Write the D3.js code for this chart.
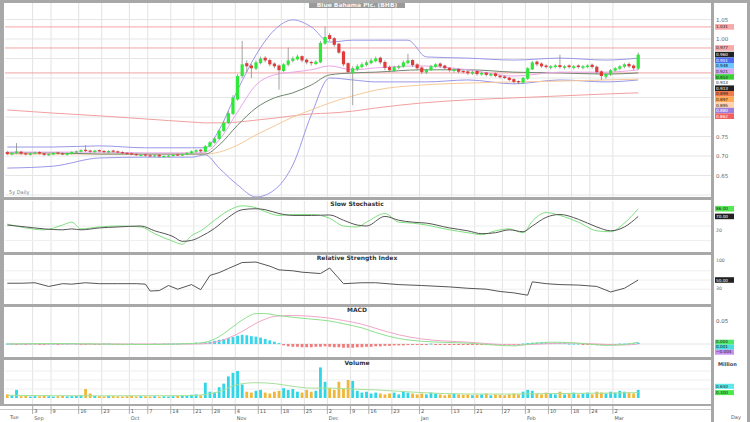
<!DOCTYPE html>
<html><head><meta charset="utf-8">
<script src="https://cdn.jsdelivr.net/npm/d3@7"></script>
<style>body{margin:0;background:#fff;}svg{display:block;font-family:"DejaVu Sans",sans-serif;}</style>
</head><body><svg id="c" width="750" height="422"></svg>
<script>
// ---------------- DATA ----------------
const title = "Blue Bahama Plc. (BHB)";
const openP = [
0.710,0.704,0.707,0.711,0.707,0.703,0.706,0.710,0.707,0.702,
0.704,0.709,0.707,0.703,0.706,0.709,0.711,0.716,0.714,0.710,
0.715,0.713,0.709,0.714,0.712,0.710,0.708,0.707,0.705,0.701,
0.704,0.702,0.699,0.703,0.698,0.699,0.700,0.704,0.701,0.704,
0.707,0.711,0.716,0.711,0.724,0.734,0.744,0.764,0.784,0.808,
0.845,0.905,0.938,0.932,0.924,0.938,0.952,0.946,0.937,0.932,
0.918,0.934,0.944,0.948,0.956,0.947,0.941,0.936,0.940,0.988,
1.010,1.002,0.988,0.968,0.938,0.912,0.922,0.928,0.933,0.938,
0.943,0.952,0.941,0.928,0.918,0.926,0.929,0.938,0.946,0.935,
0.927,0.914,0.920,0.929,0.937,0.932,0.926,0.918,0.923,0.918,
0.917,0.911,0.918,0.909,0.914,0.906,0.912,0.906,0.904,0.901,
0.897,0.892,0.888,0.898,0.922,0.942,0.937,0.932,0.926,0.928,
0.933,0.926,0.932,0.926,0.932,0.926,0.928,0.934,0.929,0.917,
0.903,0.909,0.919,0.924,0.929,0.936,0.932,0.924];
const highP = [
0.713,0.710,0.733,0.713,0.709,0.709,0.711,0.712,0.708,0.707,
0.710,0.711,0.709,0.709,0.712,0.714,0.717,0.728,0.716,0.716,
0.717,0.715,0.715,0.716,0.714,0.712,0.710,0.709,0.707,0.705,
0.706,0.704,0.704,0.705,0.702,0.703,0.705,0.706,0.707,0.710,
0.714,0.717,0.718,0.728,0.738,0.748,0.768,0.790,0.815,0.856,
0.910,0.995,0.945,0.936,0.945,0.955,0.956,0.950,0.940,0.935,
0.938,0.978,0.955,0.960,0.958,0.950,0.944,0.945,0.995,1.032,
1.015,1.005,0.990,0.970,0.940,0.930,0.935,0.940,0.945,0.950,
0.955,0.955,0.945,0.932,0.932,0.934,0.945,0.962,0.948,0.938,
0.930,0.924,0.933,0.938,0.940,0.934,0.928,0.925,0.925,0.920,
0.920,0.919,0.920,0.916,0.916,0.913,0.914,0.908,0.906,0.903,
0.899,0.894,0.903,0.928,0.944,0.945,0.940,0.935,0.933,0.935,
0.960,0.933,0.935,0.933,0.935,0.933,0.935,0.937,0.932,0.920,
0.913,0.923,0.928,0.933,0.938,0.940,0.935,0.965];
const lowP = [
0.702,0.702,0.705,0.703,0.702,0.701,0.704,0.704,0.700,0.700,
0.702,0.704,0.702,0.701,0.704,0.707,0.709,0.710,0.708,0.708,
0.709,0.708,0.707,0.708,0.707,0.705,0.704,0.702,0.700,0.699,
0.698,0.697,0.697,0.696,0.696,0.697,0.698,0.700,0.699,0.702,
0.705,0.709,0.709,0.709,0.722,0.732,0.742,0.762,0.782,0.805,
0.842,0.900,0.915,0.900,0.920,0.935,0.940,0.930,0.925,0.870,
0.915,0.930,0.940,0.945,0.940,0.935,0.932,0.933,0.938,0.985,
0.995,0.980,0.962,0.930,0.910,0.830,0.918,0.925,0.930,0.935,
0.940,0.935,0.920,0.915,0.915,0.922,0.926,0.935,0.928,0.920,
0.910,0.910,0.918,0.926,0.926,0.922,0.916,0.914,0.912,0.912,
0.908,0.908,0.906,0.906,0.904,0.904,0.902,0.899,0.897,0.892,
0.885,0.884,0.885,0.895,0.920,0.930,0.926,0.924,0.922,0.925,
0.924,0.922,0.924,0.922,0.924,0.922,0.925,0.924,0.910,0.895,
0.898,0.905,0.916,0.920,0.925,0.926,0.920,0.920];
const closeP = [
0.705,0.708,0.712,0.706,0.704,0.707,0.709,0.706,0.703,0.705,
0.708,0.706,0.704,0.707,0.710,0.712,0.715,0.713,0.711,0.714,
0.712,0.710,0.713,0.711,0.709,0.707,0.706,0.704,0.702,0.703,
0.701,0.700,0.702,0.699,0.700,0.701,0.703,0.702,0.705,0.708,
0.712,0.715,0.712,0.725,0.735,0.745,0.765,0.785,0.810,0.850,
0.905,0.935,0.930,0.925,0.940,0.950,0.945,0.935,0.930,0.920,
0.935,0.945,0.950,0.955,0.945,0.940,0.938,0.942,0.990,1.005,
1.000,0.985,0.965,0.935,0.915,0.925,0.930,0.935,0.940,0.945,
0.950,0.940,0.926,0.920,0.928,0.930,0.940,0.945,0.933,0.925,
0.915,0.921,0.930,0.935,0.930,0.925,0.920,0.922,0.916,0.915,
0.912,0.916,0.910,0.913,0.908,0.910,0.905,0.902,0.900,0.895,
0.890,0.889,0.900,0.925,0.940,0.935,0.930,0.928,0.930,0.932,
0.928,0.930,0.928,0.930,0.928,0.930,0.932,0.928,0.915,0.905,
0.910,0.920,0.925,0.930,0.935,0.930,0.925,0.960];
const volume = [
0.20,0.15,0.45,0.10,0.12,0.08,0.10,0.09,0.12,0.10,
0.08,0.10,0.12,0.09,0.10,0.12,0.15,0.50,0.25,0.12,
0.10,0.08,0.12,0.10,0.09,0.08,0.10,0.12,0.08,0.10,
0.09,0.08,0.10,0.07,0.09,0.08,0.10,0.12,0.15,0.12,
0.18,0.20,0.15,0.85,0.35,0.30,0.60,0.80,1.20,1.40,
1.50,0.75,0.35,0.30,0.40,0.45,0.30,0.25,0.35,0.40,
0.55,0.45,0.50,0.35,0.30,0.45,0.35,0.40,1.70,0.90,
0.55,0.45,0.90,0.50,1.00,0.95,0.40,0.30,0.35,0.25,
0.30,0.25,0.20,0.25,0.30,0.20,0.35,0.30,0.25,0.20,
0.25,0.20,0.30,0.25,0.20,0.15,0.20,0.25,0.20,0.18,
0.20,0.15,0.18,0.20,0.25,0.15,0.20,0.18,0.15,0.20,
0.25,0.20,0.35,0.45,0.40,0.25,0.20,0.30,0.25,0.20,
0.35,0.20,0.25,0.30,0.20,0.25,0.30,0.20,0.35,0.30,
0.25,0.35,0.30,0.40,0.35,0.30,0.25,0.45];
const macdHist = [
0.001,0.001,-0.001,0.001,-0.001,0.001,0.001,-0.001,-0.001,0.001,
0.001,-0.001,0.001,0.001,0.002,0.001,-0.001,-0.001,0.001,-0.001,
-0.001,0.001,0.001,-0.001,-0.001,-0.001,-0.001,0.001,-0.001,-0.001,
-0.001,-0.001,0.001,-0.001,0.001,0.001,0.001,0.001,0.002,0.002,
0.002,0.003,0.002,0.004,0.005,0.007,0.009,0.011,0.013,0.015,
0.018,0.020,0.019,0.017,0.016,0.014,0.011,0.008,0.005,0.002,
-0.003,-0.005,-0.006,-0.006,-0.007,-0.007,-0.007,-0.006,-0.006,-0.005,
-0.006,-0.007,-0.007,-0.008,-0.008,-0.008,-0.007,-0.007,-0.006,-0.006,
-0.005,-0.005,-0.004,-0.004,-0.003,-0.003,-0.003,-0.002,-0.002,-0.002,
-0.001,-0.001,0.001,-0.001,-0.001,-0.001,-0.001,-0.001,-0.001,-0.001,
-0.001,-0.001,-0.001,-0.001,-0.001,-0.002,-0.002,-0.002,-0.002,-0.002,
-0.002,-0.002,0.001,0.002,0.003,0.003,0.003,0.003,0.002,0.002,
0.002,0.002,0.001,0.001,0.001,-0.001,-0.001,-0.001,-0.002,-0.002,
-0.002,-0.001,-0.001,0.001,0.001,0.001,0.001,0.003];

// moving averages read at sparse points
const maIdx   = [0,10,20,30,40,43,46,50,54,58,62,66,70,75,80,90,100,110,120,130,137];
const maShort = [0.710,0.710,0.710,0.708,0.708,0.710,0.741,0.813,0.882,0.908,0.915,0.921,0.931,0.921,0.926,0.931,0.921,0.905,0.915,0.915,0.921];
const maMid   = [0.708,0.708,0.705,0.705,0.705,0.705,0.728,0.779,0.823,0.849,0.862,0.882,0.908,0.913,0.915,0.921,0.921,0.915,0.913,0.910,0.913];
const maLong  = [0.705,0.705,0.705,0.705,0.705,0.705,0.710,0.728,0.754,0.777,0.800,0.818,0.836,0.854,0.869,0.882,0.887,0.890,0.892,0.895,0.897];
const ma200   = [0.818,0.810,0.803,0.795,0.787,0.785,0.785,0.787,0.792,0.797,0.803,0.808,0.810,0.815,0.823,0.836,0.844,0.849,0.854,0.859,0.862];
const bbIdx   = [0,10,20,30,40,43,46,50,54,58,62,66,70,75,80,87,91,100,110,120,130,137];
const bbUpper = [0.723,0.723,0.726,0.721,0.721,0.721,0.767,0.869,0.959,1.023,1.049,1.031,0.992,0.997,0.997,0.997,0.954,0.951,0.946,0.951,0.946,0.951];
const bbLower = [0.669,0.674,0.695,0.697,0.697,0.703,0.669,0.626,0.595,0.613,0.677,0.805,0.900,0.895,0.890,0.890,0.890,0.895,0.885,0.895,0.890,0.895];
const hLines  = [1.031,0.977,0.913];

// stochastic
const stIdx = [0,4,8,12,14,16,20,24,29,32,36,38,40,42,45,48,51,54,56,59,62,66,70,73,76,78,82,85,88,91,96,100,103,106,109,112,114,117,120,124,128,131,134,137];
const stochD = [52,48,44,42,44,42,46,48,50,40,28,18,20,28,45,68,84,86,84,76,72,72,73,62,52,50,70,62,58,56,46,40,34,36,42,38,50,68,74,64,48,40,48,70];
const stochK = [54,46,42,52,58,44,48,50,48,34,18,12,30,40,62,82,92,88,80,72,74,74,66,50,48,58,76,58,56,52,42,36,32,40,44,36,60,78,72,58,40,38,56,86];
// RSI
const rsiIdx = [0,3,6,9,12,14,17,20,24,28,30,31,33,35,37,40,42,44,46,48,51,54,57,59,62,64,68,70,73,77,80,85,90,96,100,104,107,110,113,114,117,120,124,128,131,134,137];
const rsiVal = [43,43,44,36,42,41,44,42,42,42,41,26,27,38,30,40,29,60,66,75,88,89,80,72,70,67,64,76,42,44,44,40,38,35,32,30,25,22,17,46,42,40,39,36,24,32,50];
// MACD lines
const macdIdx = [0,10,20,30,40,43,46,48,50,52,54,56,58,62,66,70,73,77,80,85,90,100,110,114,118,122,126,130,134,137];
const macdLine = [0.000,0.001,0.000,-0.001,0.001,0.004,0.016,0.030,0.045,0.058,0.066,0.066,0.063,0.058,0.054,0.050,0.044,0.035,0.025,0.012,0.006,0.002,-0.004,0.001,0.004,0.003,0.000,-0.003,-0.001,0.004];
const macdSignal = [0.000,0.000,0.000,0.000,0.000,0.001,0.006,0.013,0.022,0.033,0.045,0.054,0.060,0.062,0.060,0.056,0.051,0.043,0.034,0.020,0.011,0.004,-0.002,-0.001,0.001,0.002,0.001,-0.001,-0.002,0.000];
// volume average
const vmaIdx = [0,20,40,43,46,50,54,58,62,66,70,75,80,90,100,110,120,130,137];
const volMA = [0.15,0.12,0.13,0.20,0.35,0.75,0.85,0.80,0.65,0.55,0.55,0.50,0.45,0.30,0.22,0.22,0.25,0.27,0.30];
// x ticks
const tickIdx   = [6,10,16,21,27,31,36,41,45,50,55,60,65,70,75,79,84,90,97,102,108,113,118,123,127,132];
const tickDay   = ["3","9","16","23","1","7","14","21","28","4","11","18","25","2","9","16","23","2","13","21","27","3","10","18","24","2"];
const tickMonth = ["Sep","","","","Oct","","","","","Nov","","","","Dec","","","","Jan","","","","Feb","","","","Mar"];
const priceTicks = [0.60,0.65,0.70,0.75,0.80,0.85,0.90,0.95,1.00,1.05];
const priceLabels = [0.65,0.70,0.75,1.00,1.05];

// ---------------- DRAW ----------------
const svg = d3.select("#c");
const X0 = 5, X1 = 711, AX = 711;
const P = {main:[3,197], stoch:[201,252], rsi:[255,304], macd:[307,357], vol:[360,404]};
const xs = d3.scaleLinear().domain([-0.5,151.5]).range([5,705]);
const yP = d3.scaleLinear().domain([0.60,1.05]).range([195,19.5]);
const yS = d3.scaleLinear().domain([0,100]).range([250,202]);
const yR = d3.scaleLinear().domain([0,100]).range([303,257]);
const yM = d3.scaleLinear().domain([-0.026,0.076]).range([356,309]);
const yV = d3.scaleLinear().domain([0,2]).range([398,362]);
const N = closeP.length;
const idx = d3.range(N);

svg.append("rect").attr("width",750).attr("height",422).attr("fill","#fff");
const defs = svg.append("defs");
Object.entries(P).forEach(([k,[a,b]])=>{
  defs.append("clipPath").attr("id","cl-"+k).append("rect").attr("x",X0).attr("y",a).attr("width",X1-X0).attr("height",b-a);
});

// vertical grid across panels
Object.values(P).forEach(([a,b])=>{
  svg.append("g").selectAll("line").data(tickIdx).join("line")
    .attr("x1",d=>xs(d)-2.3).attr("x2",d=>xs(d)-2.3).attr("y1",a).attr("y2",b)
    .attr("stroke","#e3e3e3").attr("stroke-width",1);
});
// horizontal grid main
svg.append("g").selectAll("line").data(priceTicks).join("line")
  .attr("x1",X0).attr("x2",X1).attr("y1",d=>yP(d)).attr("y2",d=>yP(d)).attr("stroke","#e6e6e6");
[[yS,[20,50,80]],[yR,[30,50,70]],[yV,[0.5,1,1.5]]].forEach(([s,v])=>{
  svg.append("g").selectAll("line").data(v).join("line")
   .attr("x1",X0).attr("x2",X1).attr("y1",d=>s(d)).attr("y2",d=>s(d)).attr("stroke","#eeeeee");
});

const lineFn = (ys)=> d3.line().x(d=>xs(d[0])).y(d=>ys(d[1])).curve(d3.curveMonotoneX);

// ---- main panel
const gm = svg.append("g").attr("clip-path","url(#cl-main)");
gm.selectAll("line.h").data(hLines).join("line").attr("class","h")
  .attr("x1",X0).attr("x2",X1).attr("y1",d=>yP(d)).attr("y2",d=>yP(d)).attr("stroke","#f2a4a4").attr("stroke-width",1);
const mLines = [
  [bbIdx,bbUpper,"#9a98e8"],[bbIdx,bbLower,"#9a98e8"],
  [maIdx,ma200,"#f2a0a0"],[maIdx,maLong,"#f7c99a"],[maIdx,maMid,"#6f866f"],[maIdx,maShort,"#e9a6ea"]
];
mLines.forEach(([ix,v,c])=>{
  gm.append("path").datum(d3.zip(ix,v)).attr("d",lineFn(yP)).attr("fill","none").attr("stroke",c).attr("stroke-width",1);
});
const up = i => closeP[i] >= openP[i];
gm.selectAll("line.w").data(idx).join("line").attr("class","w")
  .attr("x1",i=>xs(i)).attr("x2",i=>xs(i)).attr("y1",i=>yP(highP[i])).attr("y2",i=>yP(lowP[i]))
  .attr("stroke","#8a8a8a").attr("stroke-width",0.8);
gm.selectAll("rect.b").data(idx).join("rect").attr("class","b")
  .attr("x",i=>xs(i)-1.6).attr("width",3.2)
  .attr("y",i=>yP(Math.max(openP[i],closeP[i])))
  .attr("height",i=>Math.max(1.2,Math.abs(yP(openP[i])-yP(closeP[i]))))
  .attr("fill",i=>up(i)?"#2ee83a":"#e03a3a");
svg.append("text").attr("x",9).attr("y",194).attr("font-size",5).attr("fill","#777").text("5y  Daily");

// ---- stochastic
const gs = svg.append("g").attr("clip-path","url(#cl-stoch)");
gs.append("path").datum(d3.zip(stIdx,stochK)).attr("d",lineFn(yS)).attr("fill","none").attr("stroke","#7fe07f").attr("stroke-width",1);
gs.append("path").datum(d3.zip(stIdx,stochD)).attr("d",lineFn(yS)).attr("fill","none").attr("stroke","#555").attr("stroke-width",1);

// ---- RSI
const gr = svg.append("g").attr("clip-path","url(#cl-rsi)");
gr.append("path").datum(d3.zip(rsiIdx,rsiVal)).attr("d",d3.line().x(d=>xs(d[0])).y(d=>yR(d[1]))).attr("fill","none").attr("stroke","#555").attr("stroke-width",1);

// ---- MACD
const gc = svg.append("g").attr("clip-path","url(#cl-macd)");
gc.append("line").attr("x1",X0).attr("x2",X1).attr("y1",yM(0)).attr("y2",yM(0)).attr("stroke","#e4e4e4");
gc.selectAll("rect").data(idx).join("rect")
  .attr("x",i=>xs(i)-1.4).attr("width",2.8)
  .attr("y",i=>Math.min(yM(0),yM(macdHist[i])))
  .attr("height",i=>Math.max(1,Math.abs(yM(macdHist[i])-yM(0))))
  .attr("fill",i=>macdHist[i]>=0?"#37d6ea":"#f07c7c");
gc.append("path").datum(d3.zip(macdIdx,macdSignal)).attr("d",lineFn(yM)).attr("fill","none").attr("stroke","#f0a6c8").attr("stroke-width",1);
gc.append("path").datum(d3.zip(macdIdx,macdLine)).attr("d",lineFn(yM)).attr("fill","none").attr("stroke","#8ee08e").attr("stroke-width",1);

// ---- Volume
const gv = svg.append("g").attr("clip-path","url(#cl-vol)");
gv.selectAll("rect").data(idx).join("rect")
  .attr("x",i=>xs(i)-1.4).attr("width",2.8)
  .attr("y",i=>yV(volume[i])).attr("height",i=>yV(0)-yV(volume[i]))
  .attr("fill",i=>up(i)?"#2fd6e6":"#f0b83a");
gv.append("path").datum(d3.zip(vmaIdx,volMA)).attr("d",lineFn(yV)).attr("fill","none").attr("stroke","#a6e09a").attr("stroke-width",1);

// ---- panel titles
const titles = [["Slow Stochastic",206],["Relative Strength Index",260],["MACD",312],["Volume",365]];
titles.forEach(([t,y])=>svg.append("text").attr("x",357).attr("y",y).attr("text-anchor","middle")
  .attr("font-size",6).attr("font-weight","bold").attr("fill","#333").text(t));
const tw = 96;
svg.append("rect").attr("x",357-tw/2).attr("y",0).attr("width",tw).attr("height",8).attr("fill","#9a9a9a");
svg.append("text").attr("x",357).attr("y",6.5).attr("text-anchor","middle").attr("font-size",6).attr("font-weight","bold").attr("fill","#f4f4f4").text(title);

// ---- frames
const frame = svg.append("g").attr("fill","#a8a8a8");
frame.append("rect").attr("x",0).attr("y",0).attr("width",750).attr("height",3);
frame.append("rect").attr("x",0).attr("y",0).attr("width",4).attr("height",406);
frame.append("rect").attr("x",AX).attr("y",0).attr("width",3).attr("height",422);
frame.append("rect").attr("x",747).attr("y",0).attr("width",3).attr("height",422);
[[197,3],[252,3],[304,3],[357,3],[404,2]].forEach(([y,h])=>frame.append("rect").attr("x",0).attr("y",y).attr("width",AX).attr("height",h));
frame.append("rect").attr("x",0).attr("y",409).attr("width",AX).attr("height",1).attr("fill","#c8c8c8");

// ---- right axis labels
const ax = AX+5;
svg.append("g").selectAll("text").data(priceLabels).join("text")
  .attr("x",ax).attr("y",d=>yP(d)+2).attr("font-size",5.5).attr("fill","#666").text(d=>d.toFixed(2));

function tags(items, s, h){
  items.forEach(d=>d.y=s(d.v));
  items.sort((a,b)=>a.y-b.y);
  for(let i=1;i<items.length;i++) if(items[i].y<items[i-1].y+h) items[i].y=items[i-1].y+h;
  const g = svg.append("g");
  items.forEach(d=>{
    g.append("rect").attr("x",ax-1).attr("y",d.y-h/2).attr("width",19).attr("height",h).attr("fill",d.c);
    g.append("text").attr("x",ax).attr("y",d.y+h/2-1.3).attr("font-size",4.2).attr("fill",d.t||"#222").text(d3.format(d.f||".3f")(d.v));
  });
}
const last = a=>a[a.length-1];
tags([
 {v:hLines[0],c:"#f6a9a9"},{v:hLines[1],c:"#f6a9a9"},
 {v:last(closeP),c:"#222",t:"#fff"},{v:last(bbUpper),c:"#4f6ff0",t:"#fff"},
 {v:0.948,c:"#6cc8ff"},{v:last(maShort),c:"#d8a8f2"},
 {v:hLines[2],c:"#ffffff"},{v:last(maMid)+0.001,c:"#3ccf3c"},
 {v:last(maMid),c:"#222",t:"#fff"},{v:last(maLong)+0.002,c:"#f07a4a"},
 {v:last(maLong),c:"#ffab55"},{v:last(bbLower),c:"#ffd2b0"},
 {v:0.88,c:"#9c7ee0",t:"#fff"},{v:last(ma200),c:"#f06060",t:"#fff"}
], yP, 5.6);

svg.append("text").attr("x",ax).attr("y",yS(50)+6).attr("font-size",4.6).attr("fill","#666").text("20");
tags([{v:last(stochK),c:"#55e855",f:".2f"},{v:last(stochD),c:"#222",t:"#fff",f:".2f"}], yS, 5.6);
svg.append("text").attr("x",ax).attr("y",yR(90)).attr("font-size",4.6).attr("fill","#666").text("100");
svg.append("text").attr("x",ax).attr("y",yR(30)+1).attr("font-size",4.6).attr("fill","#666").text("30");
tags([{v:last(rsiVal),c:"#222",t:"#fff",f:".2f"}], yR, 5.6);
svg.append("text").attr("x",ax).attr("y",yM(0.05)+2).attr("font-size",5.5).attr("fill","#555").text("0.05");
tags([{v:last(macdLine),c:"#4ee86a"},{v:last(macdHist)-0.002,c:"#46dede"},{v:last(macdSignal)-0.004,c:"#c890f0"}], yM, 5);
svg.append("text").attr("x",ax+2).attr("y",366).attr("font-size",5).attr("font-weight","bold").attr("fill","#444").text("Million");
tags([{v:last(volume)+0.2,c:"#5ce8e8"},{v:last(volMA),c:"#4ee84e"}], yV, 5);

// ---- x axis
const gx = svg.append("g");
tickIdx.forEach((t,k)=>{
  const x = xs(t)-2.3;
  gx.append("line").attr("x1",x).attr("x2",x).attr("y1",406).attr("y2",414).attr("stroke","#999").attr("stroke-width",0.8);
  gx.append("text").attr("x",x+1.5).attr("y",413).attr("font-size",5).attr("fill","#555").text(tickDay[k]);
  if(tickMonth[k]) gx.append("text").attr("x",x+1.5).attr("y",420).attr("font-size",5).attr("fill","#555").text(tickMonth[k]);
});
svg.append("text").attr("x",10).attr("y",419).attr("font-size",5).attr("fill","#555").text("Tue");
svg.append("text").attr("x",731).attr("y",419).attr("font-size",5).attr("fill","#555").text("Day");
</script></body></html>
